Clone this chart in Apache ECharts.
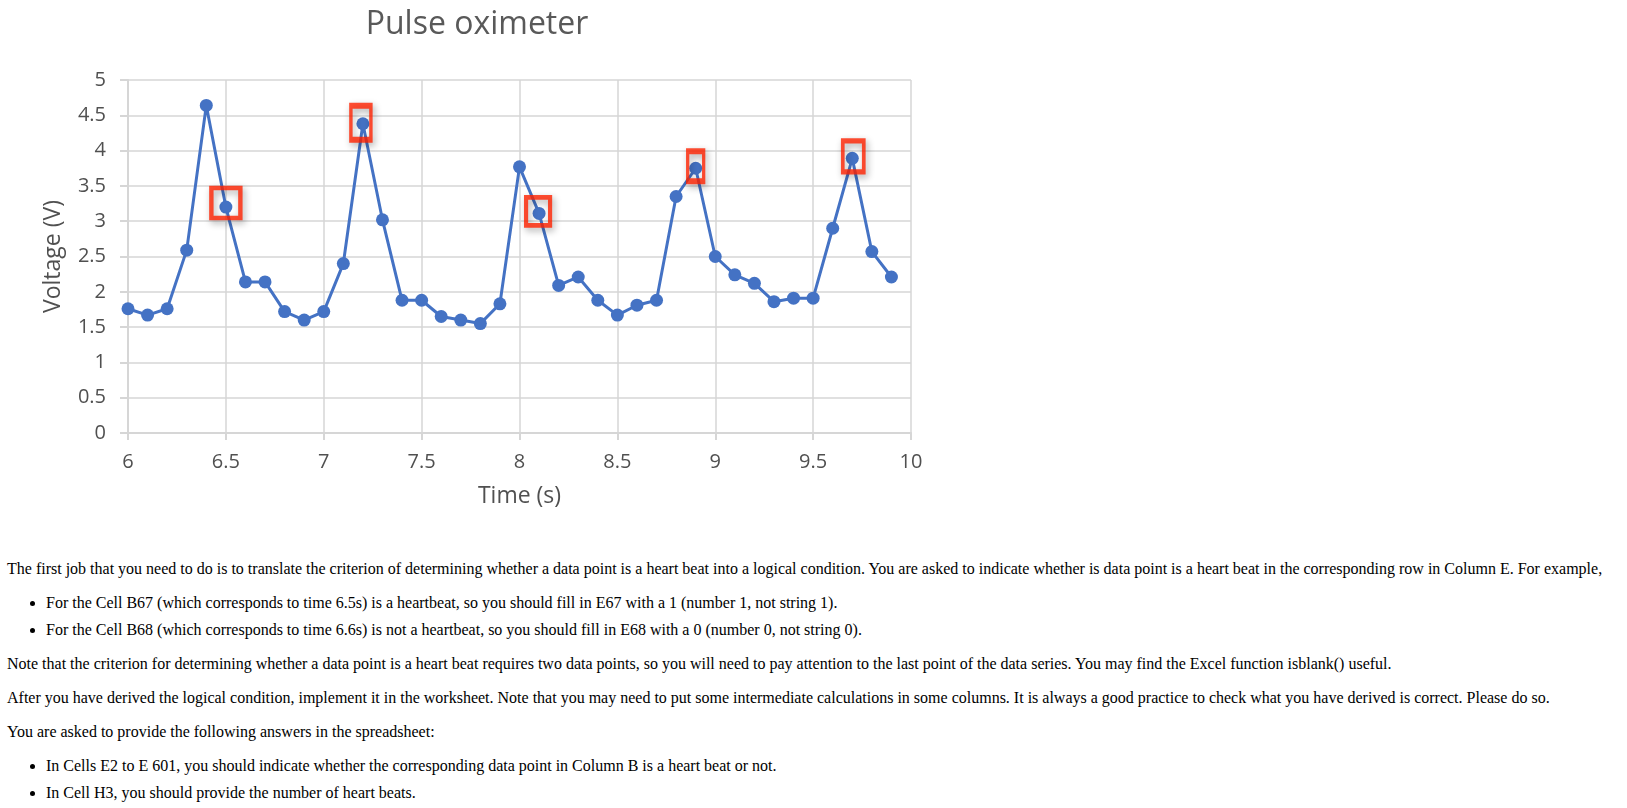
<!DOCTYPE html>
<html>
<head>
<meta charset="utf-8">
<script src="https://cdn.jsdelivr.net/npm/echarts@6/dist/echarts.min.js"></script>
<style>
  body { margin: 0; background: #fff; }
  #chart { width: 954px; height: 544px; }
  .text { padding-left: 7px; font-family: "Liberation Serif", "Times New Roman", serif; font-size: 16px; color: #000; }
  .text p { margin: 16px 0; }
  .text ul { margin: 16px 0; padding-left: 39px; }
  .text li { margin-bottom: 9px; }
</style>
</head>
<body>
<div id="chart"></div>
<div class="text">
  <p>The first job that you need to do is to translate the criterion of determining whether a data point is a heart beat into a logical condition. You are asked to indicate whether is data point is a heart beat in the corresponding row in Column E. For example,</p>
  <ul>
    <li>For the Cell B67 (which corresponds to time 6.5s) is a heartbeat, so you should fill in E67 with a 1 (number 1, not string 1).</li>
    <li>For the Cell B68 (which corresponds to time 6.6s) is not a heartbeat, so you should fill in E68 with a 0 (number 0, not string 0).</li>
  </ul>
  <p>Note that the criterion for determining whether a data point is a heart beat requires two data points, so you will need to pay attention to the last point of the data series. You may find the Excel function isblank() useful.</p>
  <p>After you have derived the logical condition, implement it in the worksheet. Note that you may need to put some intermediate calculations in some columns. It is always a good practice to check what you have derived is correct. Please do so.</p>
  <p>You are asked to provide the following answers in the spreadsheet:</p>
  <ul>
    <li>In Cells E2 to E 601, you should indicate whether the corresponding data point in Column B is a heart beat or not.</li>
    <li>In Cell H3, you should provide the number of heart beats.</li>
  </ul>
</div>
<script>
  // time (s) of each sample
  var times = [6.0, 6.1, 6.2, 6.3, 6.4, 6.5, 6.6, 6.7, 6.8, 6.9,
               7.0, 7.1, 7.2, 7.3, 7.4, 7.5, 7.6, 7.7, 7.8, 7.9,
               8.0, 8.1, 8.2, 8.3, 8.4, 8.5, 8.6, 8.7, 8.8, 8.9,
               9.0, 9.1, 9.2, 9.3, 9.4, 9.5, 9.6, 9.7, 9.8, 9.9];
  // voltage (V)
  var voltage = [1.76, 1.67, 1.76, 2.59, 4.64, 3.20, 2.14, 2.14, 1.72, 1.60,
                 1.72, 2.40, 4.38, 3.02, 1.88, 1.88, 1.65, 1.60, 1.55, 1.83,
                 3.77, 3.11, 2.09, 2.21, 1.88, 1.67, 1.81, 1.88, 3.35, 3.75,
                 2.50, 2.24, 2.12, 1.86, 1.91, 1.91, 2.90, 3.89, 2.57, 2.21];
  // points marked with the red boxes
  var beatTimes = [6.5, 7.2, 8.1, 8.9, 9.7];
  var xTicks = [6, 6.5, 7, 7.5, 8, 8.5, 9, 9.5, 10];
  var yTicks = [0, 0.5, 1, 1.5, 2, 2.5, 3, 3.5, 4, 4.5, 5];

  // box shapes drawn around the marked points (size, offset)
  var boxShapes = [
    { size: [29, 30], offset: [0, -4] },
    { size: [20, 34], offset: [-2, -1] },
    { size: [24, 28], offset: [-1, -2] },
    { size: [16, 30], offset: [0, -2] },
    { size: [21, 31], offset: [1, -2] }
  ];

  var lineData = times.map(function (t, i) { return [t, voltage[i]]; });
  var boxData = beatTimes.map(function (t, k) {
    var i = times.indexOf(t);
    return {
      value: [t, voltage[i]],
      symbolSize: boxShapes[k].size,
      symbolOffset: boxShapes[k].offset
    };
  });

  var font = "'Open Sans', sans-serif";
  var grey = "#505050";
  var gridColor = "#d6d6d6";

  var myChart = echarts.init(document.getElementById("chart"));
  myChart.setOption({
    animation: false,
    title: {
      text: "Pulse oximeter",
      left: "center",
      top: 4,
      textStyle: { fontFamily: font, fontSize: 32, fontWeight: "normal", color: "#595959" }
    },
    grid: { left: 128, right: 43, top: 80, bottom: 111 },
    xAxis: {
      type: "value",
      min: xTicks[0],
      max: xTicks[xTicks.length - 1],
      interval: xTicks[1] - xTicks[0],
      name: "Time (s)",
      nameLocation: "middle",
      nameGap: 52,
      nameTextStyle: { fontFamily: font, fontSize: 23, color: grey },
      axisLine: { lineStyle: { color: gridColor, width: 2 } },
      axisTick: { show: true, length: 7, lineStyle: { color: gridColor, width: 2 } },
      axisLabel: { margin: 19, fontFamily: font, fontSize: 20, color: grey },
      splitLine: { show: true, lineStyle: { color: gridColor, width: 1.5 } }
    },
    yAxis: {
      type: "value",
      min: yTicks[0],
      max: yTicks[yTicks.length - 1],
      interval: yTicks[1] - yTicks[0],
      name: "Voltage (V)",
      nameLocation: "middle",
      nameGap: 63,
      nameTextStyle: { fontFamily: font, fontSize: 23, color: grey },
      axisLine: { show: true, lineStyle: { color: gridColor, width: 2 } },
      axisTick: { show: true, length: 8, lineStyle: { color: gridColor, width: 2 } },
      axisLabel: { margin: 22, fontFamily: font, fontSize: 20, color: grey },
      splitLine: { show: true, lineStyle: { color: gridColor, width: 1.5 } }
    },
    series: [
      {
        name: "Voltage",
        type: "line",
        data: lineData,
        symbol: "circle",
        symbolSize: 13,
        lineStyle: { color: "#4472c4", width: 3 },
        itemStyle: { color: "#4472c4" }
      },
      {
        name: "Heart beat",
        type: "scatter",
        data: boxData,
        symbol: "rect",
        z: 5,
        itemStyle: {
          color: "rgba(0,0,0,0)",
          borderColor: "#ff2200",
          borderWidth: 4.5,
          shadowColor: "rgba(0,0,0,0.4)",
          shadowBlur: 7,
          shadowOffsetX: 2,
          shadowOffsetY: 3
        }
      }
    ]
  });
</script>
</body>
</html>
